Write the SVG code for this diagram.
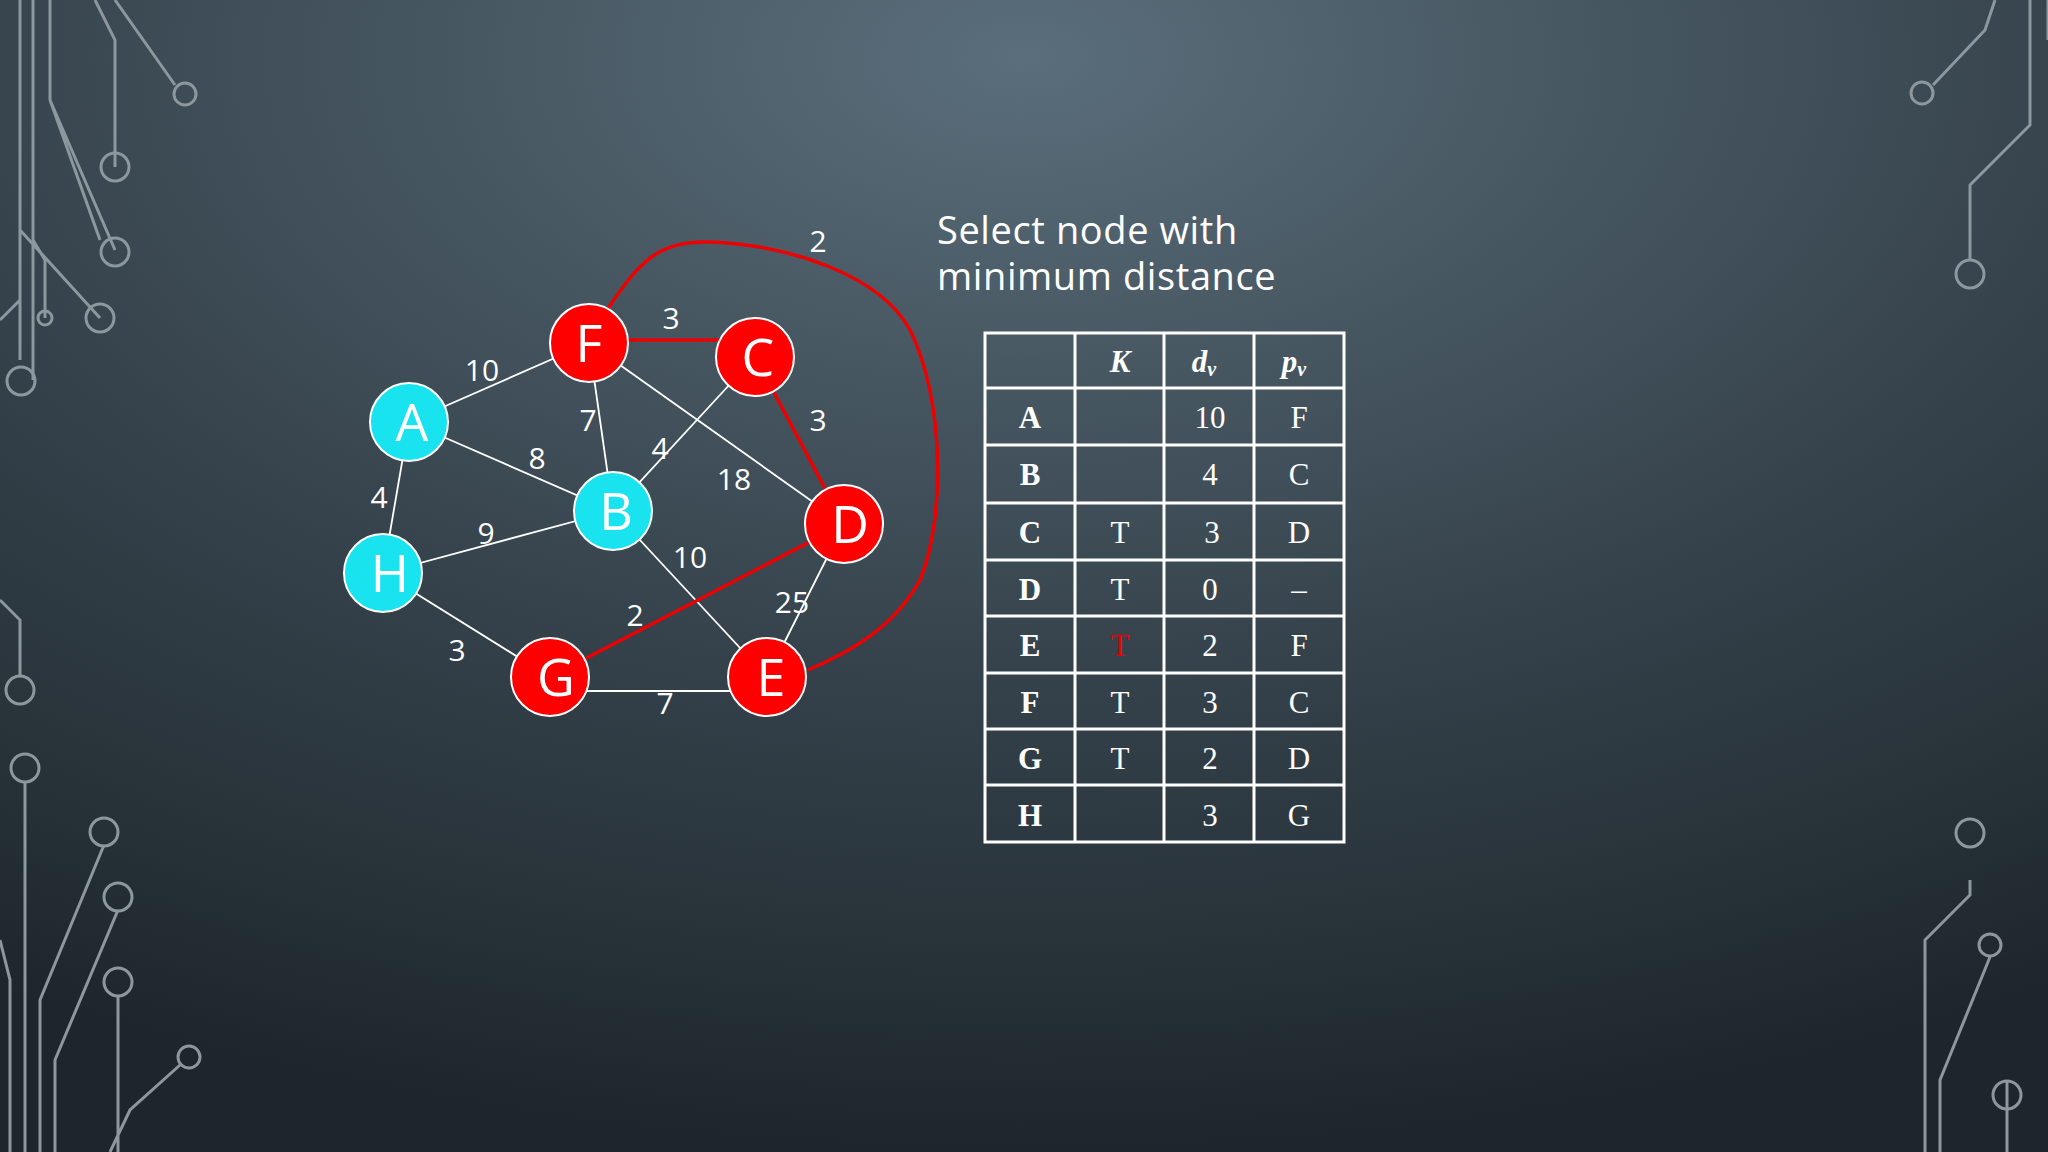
<svg xmlns="http://www.w3.org/2000/svg" width="2048" height="1152" viewBox="0 0 2048 1152">
<defs>
<radialGradient id="bg" cx="0.5" cy="0.05" r="0.95">
<stop offset="0" stop-color="#5a6e7b"/><stop offset="0.55" stop-color="#36434c"/><stop offset="1" stop-color="#1d262c"/>
</radialGradient>
<style>
.dec{fill:none;stroke:#8c979e;stroke-width:3}
.e{stroke:#fff;stroke-width:1.8;fill:none}
.r{stroke:#e00;stroke-width:3.5;fill:none}
.el{font-family:"Open Sans",sans-serif;font-size:30px;fill:#fff;text-anchor:middle;dominant-baseline:central}
.nr{fill:#f00;stroke:#fff;stroke-width:2}
.nc{fill:#19e3ef;stroke:#fff;stroke-width:2}
.nl{font-family:"Open Sans",sans-serif;font-size:52px;fill:#fff;text-anchor:middle;dominant-baseline:central}
.tl{stroke:#fff;stroke-width:3;fill:none}
.tt{font-family:"Liberation Serif",serif;font-size:31px;fill:#fff;text-anchor:middle;dominant-baseline:central}
.b{font-weight:bold}
</style>
</defs>
<rect width="2048" height="1152" fill="url(#bg)"/>
<g id="decor">
<path class="dec" d="M20 0V230M33 0V380M50 0V100L115 250M50 100L100 240M95 0L115 40V167M115 0L175 85M20 230L100 318M20 230V360M33 240L45 260V318M0 320L20 300"/>
<circle class="dec" cx="115" cy="167" r="14"/><circle class="dec" cx="115" cy="252" r="14"/><circle class="dec" cx="100" cy="318" r="14"/><circle class="dec" cx="185" cy="94" r="11"/><circle class="dec" cx="45" cy="318" r="7"/><circle class="dec" cx="21" cy="381" r="14"/>
<path class="dec" d="M0 600L20 620V675M25 782V1152M0 940L10 980V1152M104 845L40 1000V1152M118 910L55 1060V1152M118 995V1152M180 1065L130 1110L110 1152"/>
<circle class="dec" cx="20" cy="690" r="14"/><circle class="dec" cx="25" cy="768" r="14"/><circle class="dec" cx="104" cy="832" r="14"/><circle class="dec" cx="118" cy="897" r="14"/><circle class="dec" cx="118" cy="982" r="14"/><circle class="dec" cx="189" cy="1057" r="11"/>
<path class="dec" d="M1995 0L1985 30L1933 85M2030 0V125L1970 185V260M2048 0V40M1970 880V895L1925 940V1152M1990 957L1940 1080V1152M2007 1080V1152"/>
<circle class="dec" cx="1922" cy="93" r="11"/><circle class="dec" cx="1970" cy="274" r="14"/><circle class="dec" cx="1970" cy="833" r="14"/><circle class="dec" cx="1990" cy="945" r="11"/><circle class="dec" cx="2007" cy="1095" r="14"/>
</g>
<g id="connectors">
<line class="e" x1="409" y1="422" x2="589" y2="343"/>
<line class="e" x1="409" y1="422" x2="613" y2="511"/>
<line class="e" x1="409" y1="422" x2="383" y2="573"/>
<line class="e" x1="589" y1="343" x2="613" y2="511"/>
<line class="e" x1="589" y1="343" x2="844" y2="524"/>
<line class="e" x1="755" y1="357" x2="613" y2="511"/>
<line class="e" x1="383" y1="573" x2="613" y2="511"/>
<line class="e" x1="383" y1="573" x2="550" y2="677"/>
<line class="e" x1="613" y1="511" x2="767" y2="677"/>
<line class="e" x1="550" y1="691" x2="767" y2="691"/>
<line class="e" x1="844" y1="524" x2="767" y2="677"/>
<line class="r" x1="589" y1="340" x2="755" y2="340"/>
<line class="r" x1="755" y1="357" x2="844" y2="524"/>
<line class="r" x1="550" y1="677" x2="844" y2="524"/>
<path class="r" d="M607 310C640 260 660 240 710 242C790 245 880 275 910 330C945 400 945 520 920 580C895 625 855 650 808 670"/>
</g>
<g id="edge-labels">
<text class="el" x="818" y="240">2</text><text class="el" x="671" y="317">3</text><text class="el" x="482" y="369">10</text><text class="el" x="818" y="419">3</text><text class="el" x="588" y="419">7</text><text class="el" x="537" y="457">8</text><text class="el" x="660" y="447">4</text><text class="el" x="734" y="478">18</text><text class="el" x="379" y="496">4</text><text class="el" x="486" y="532">9</text><text class="el" x="690" y="556">10</text><text class="el" x="635" y="614">2</text><text class="el" x="792" y="601">25</text><text class="el" x="457" y="649">3</text><text class="el" x="665" y="702">7</text>
</g>
<g id="F"><circle class="nr" cx="589" cy="343" r="39"/><text class="nl" x="589" y="341">F</text></g>
<g id="C"><circle class="nr" cx="755" cy="357" r="39"/><text class="nl" x="758" y="355">C</text></g>
<g id="A"><circle class="nc" cx="409" cy="422" r="39"/><text class="nl" x="412" y="420">A</text></g>
<g id="B"><circle class="nc" cx="613" cy="511" r="39"/><text class="nl" x="616" y="509">B</text></g>
<g id="D"><circle class="nr" cx="844" cy="524" r="39"/><text class="nl" x="850" y="522">D</text></g>
<g id="H"><circle class="nc" cx="383" cy="573" r="39"/><text class="nl" x="390" y="571">H</text></g>
<g id="G"><circle class="nr" cx="550" cy="677" r="39"/><text class="nl" x="556" y="675">G</text></g>
<g id="E"><circle class="nr" cx="767" cy="677" r="39"/><text class="nl" x="771" y="675">E</text></g>
<g id="title" font-family="'Open Sans',sans-serif" font-size="38" fill="#fff" letter-spacing="0.6">
<text x="937" y="244">Select node with</text><text x="937" y="290">minimum distance</text>
</g>
<g id="table">
<rect class="tl" x="985" y="333" width="359" height="509"/>
<path class="tl" d="M1075 333V842M1164 333V842M1254 333V842M985 388H1344M985 445H1344M985 503H1344M985 560H1344M985 616H1344M985 673H1344M985 729H1344M985 785H1344"/>
<text class="tt b" x="1120" y="361" font-style="italic">K</text>
<text class="tt b" x="1204" y="361" font-style="italic">d<tspan font-size="20" dy="8">v</tspan></text>
<text class="tt b" x="1294" y="361" font-style="italic">p<tspan font-size="20" dy="8">v</tspan></text>
<g class="tt b"><text x="1030" y="417">A</text><text x="1030" y="474">B</text><text x="1030" y="532">C</text><text x="1030" y="589">D</text><text x="1030" y="645">E</text><text x="1030" y="702">F</text><text x="1030" y="758">G</text><text x="1030" y="815">H</text></g>
<g class="tt"><text x="1120" y="532">T</text><text x="1120" y="589">T</text><text x="1120" y="645" fill="#e00">T</text><text x="1120" y="702">T</text><text x="1120" y="758">T</text>
<text x="1210" y="417">10</text><text x="1210" y="474">4</text><text x="1212" y="532">3</text><text x="1210" y="589">0</text><text x="1210" y="645">2</text><text x="1210" y="702">3</text><text x="1210" y="758">2</text><text x="1210" y="815">3</text>
<text x="1299" y="417">F</text><text x="1299" y="474">C</text><text x="1299" y="532">D</text><text x="1299" y="589">–</text><text x="1299" y="645">F</text><text x="1299" y="702">C</text><text x="1299" y="758">D</text><text x="1299" y="815">G</text></g>
</g>
</svg>
